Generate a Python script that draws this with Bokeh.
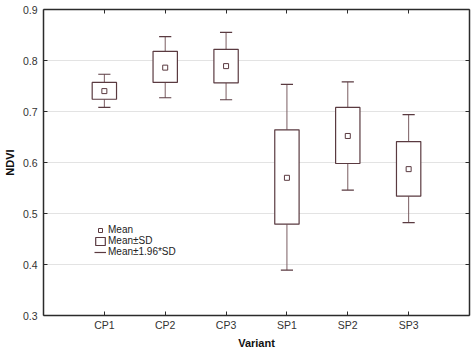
import numpy as np
from bokeh.plotting import figure
from bokeh.models import (Range1d, LinearAxis, FixedTicker, Legend, LegendItem,
                          ColumnDataSource)
from bokeh.embed import file_html
from bokeh.resources import INLINE

# ---- data ----
variants = ["CP1", "CP2", "CP3", "SP1", "SP2", "SP3"]
means = [0.740, 0.786, 0.789, 0.570, 0.652, 0.587]
sd_low = [0.724, 0.757, 0.756, 0.479, 0.598, 0.534]
sd_high = [0.757, 0.818, 0.822, 0.664, 0.708, 0.641]
ci_low = [0.708, 0.727, 0.723, 0.389, 0.546, 0.482]
ci_high = [0.773, 0.847, 0.855, 0.753, 0.758, 0.694]
y_ticks = [0.3, 0.4, 0.5, 0.6, 0.7, 0.8, 0.9]

xpos = list(range(1, len(variants) + 1))
src = ColumnDataSource(dict(x=xpos, mean=means, sl=sd_low, sh=sd_high,
                            cl=ci_low, ch=ci_high,
                            xl=[v - 0.1 for v in xpos], xr=[v + 0.1 for v in xpos]))

FONT = "Liberation Sans"
AX = "#2b2b2b"
BOX = "#5a3a40"
WH = "#7a5c61"

p = figure(width=474, height=355, output_backend="svg", toolbar_location=None,
           x_range=Range1d(0, 7), y_range=Range1d(0.3, 0.9),
           min_border_left=43, min_border_right=5, min_border_top=9,
           min_border_bottom=40)
p.outline_line_color = None
p.background_fill_color = "white"

# grid
p.xgrid.grid_line_color = None
p.ygrid.grid_line_color = "#e3e3e3"
p.ygrid.grid_line_width = 1
p.ygrid.ticker = FixedTicker(ticks=y_ticks)

# whiskers
p.segment(x0="x", y0="cl", x1="x", y1="sl", source=src, line_color=WH, line_width=1)
p.segment(x0="x", y0="sh", x1="x", y1="ch", source=src, line_color=WH, line_width=1)
caps_lo = p.segment(x0="xl", y0="cl", x1="xr", y1="cl", source=src, line_color=BOX, line_width=1.2)
p.segment(x0="xl", y0="ch", x1="xr", y1="ch", source=src, line_color=BOX, line_width=1.2)

boxes = p.vbar(x="x", bottom="sl", top="sh", width=0.4, source=src,
               fill_color="white", line_color=BOX, line_width=1.2)
marks = p.scatter(x="x", y="mean", source=src, marker="square", size=5,
                  fill_color="white", line_color=BOX, line_width=1)

# axes styling
def style(ax, labels=True):
    ax.axis_line_color = AX
    ax.axis_line_width = 1.5
    ax.major_tick_line_color = AX
    ax.major_tick_in = 4
    ax.major_tick_out = 0
    ax.minor_tick_line_color = None
    ax.major_label_text_font = FONT
    ax.major_label_text_font_size = "10.5px"
    ax.major_label_text_color = "#333333"
    ax.axis_label_text_font = FONT
    ax.axis_label_text_font_size = "11px"
    ax.axis_label_text_font_style = "bold"
    ax.axis_label_text_color = "#111111"
    if not labels:
        ax.major_label_text_font_size = "0px"
        ax.major_label_standoff = 0
        ticks = ax.ticker.ticks
        ax.major_label_overrides = {t: "" for t in ticks}

xa = p.xaxis[0]
style(xa)
xa.ticker = FixedTicker(ticks=xpos)
xa.major_label_overrides = {x: v for x, v in zip(xpos, variants)}
xa.axis_label = "Variant"
xa.major_label_standoff = 3
xa.axis_label_standoff = 3

ya = p.yaxis[0]
style(ya)
ya.ticker = FixedTicker(ticks=y_ticks)
ya.major_label_overrides = {t: f"{t:.1f}" for t in y_ticks}
ya.axis_label = "NDVI"
ya.major_label_standoff = 6
ya.axis_label_standoff = 4

top = LinearAxis(ticker=FixedTicker(ticks=xpos))
style(top, labels=False)
p.add_layout(top, "above")
right = LinearAxis(ticker=FixedTicker(ticks=y_ticks))
style(right, labels=False)
p.add_layout(right, "right")

legend = Legend(items=[
    LegendItem(label="Mean", renderers=[marks]),
    LegendItem(label="Mean±SD", renderers=[boxes]),
    LegendItem(label="Mean±1.96*SD", renderers=[caps_lo]),
], location=(51, 58))
legend.background_fill_alpha = 0
legend.border_line_color = None
legend.label_text_font = FONT
legend.label_text_font_size = "10px"
legend.label_text_color = "#222222"
legend.label_height = 10
legend.glyph_height = 10
legend.glyph_width = 12
legend.spacing = 0
legend.padding = 0
legend.margin = 0
legend.label_standoff = 2
p.add_layout(legend, "center")

open("out.html", "w").write(file_html(p, INLINE))
